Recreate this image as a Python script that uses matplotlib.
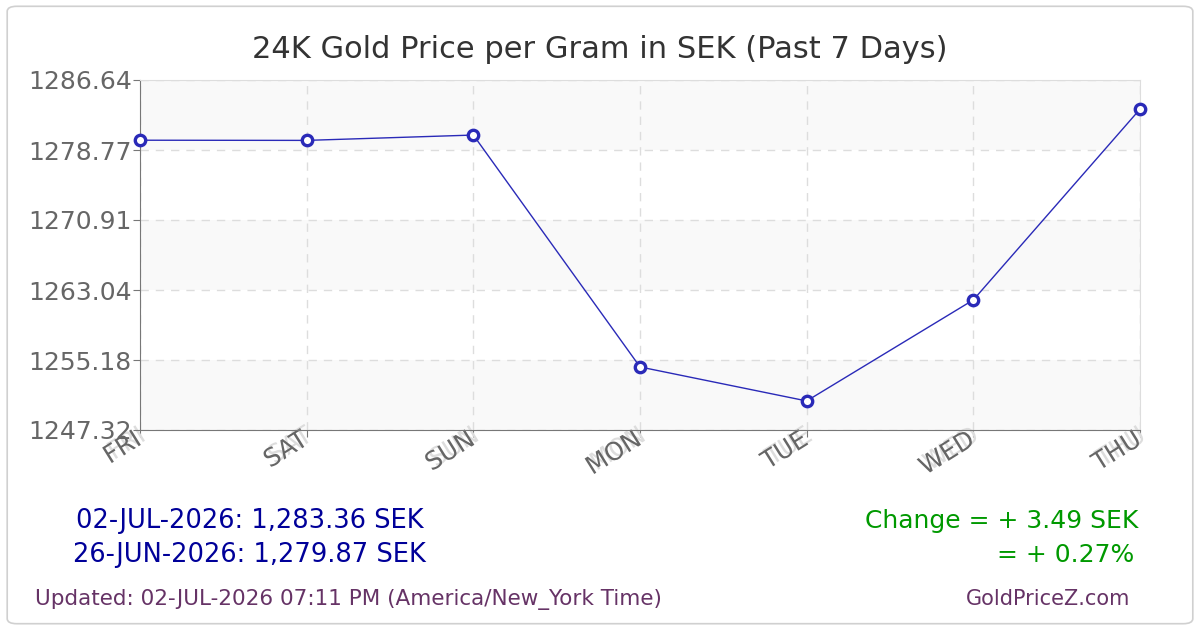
import matplotlib
matplotlib.use("Agg")
from matplotlib import pyplot as plt
from matplotlib import patheffects
from matplotlib import transforms
from matplotlib.patches import FancyBboxPatch
import numpy as np

# data
days = ["FRI", "SAT", "SUN", "MON", "TUE", "WED", "THU"]
prices = [1279.87, 1279.85, 1280.45, 1254.40, 1250.58, 1261.93, 1283.36]
y_ticks = [1247.32, 1255.18, 1263.04, 1270.91, 1278.77, 1286.64]

latest_line = "02-JUL-2026: 1,283.36 SEK"
first_line = "26-JUN-2026: 1,279.87 SEK"
change_line = "Change = + 3.49 SEK"
pct_line = "= + 0.27%"
updated_line = "Updated: 02-JUL-2026 07:11 PM (America/New_York Time)"
site_line = "GoldPriceZ.com"

plt.rcParams['font.family'] = ['DejaVu Sans']

fig = plt.figure(figsize=(12, 6.3), dpi=100)
fig.patch.set_facecolor("white")

# rounded outer frame
frame = FancyBboxPatch((0.006, 0.01), 0.988, 0.98, boxstyle="round,pad=0,rounding_size=0.008",
                       transform=fig.transFigure, facecolor="none", edgecolor="#d0d0d0",
                       linewidth=1.2, zorder=-1)
fig.patches.append(frame)

ax = fig.add_axes([0.1167, 0.3175, 0.8333, 0.5556])
x = np.arange(len(days))

# alternating horizontal bands
for i in range(len(y_ticks) - 1):
    if i % 2 == 0:
        ax.axhspan(y_ticks[i], y_ticks[i + 1], facecolor="#f9f9f9", edgecolor="none", zorder=0)

ax.plot(x, prices, color="#2a2ab8", linewidth=1.0, marker="o", markersize=7.5,
        markerfacecolor="white", markeredgecolor="#2a2ab8", markeredgewidth=2.4, zorder=3,
        clip_on=False)

ax.set_xlim(0, len(days) - 1)
ax.set_ylim(y_ticks[0], y_ticks[-1])
ax.set_yticks(y_ticks)
ax.set_yticklabels([f"{v:.2f}" for v in y_ticks])
ax.set_xticks(x)
ax.set_xticklabels(days)

ax.grid(True, color="#dddddd", linestyle=(0, (6, 5)), linewidth=1)
ax.set_axisbelow(True)

for s in ["top", "right"]:
    ax.spines[s].set_color("#dddddd")
for s in ["left", "bottom"]:
    ax.spines[s].set_color("#777777")

ax.tick_params(axis="y", colors="#777777", labelcolor="#666666", labelsize=18, length=5, pad=1)
ax.tick_params(axis="x", colors="#777777", labelcolor="#666666", labelsize=18, length=5, pad=-4)
shadow = [patheffects.withSimplePatchShadow(offset=(3, 3), shadow_rgbFace="#dddddd", alpha=1.0)]
shift = transforms.ScaledTranslation(-7 / 100, 4 / 100, fig.dpi_scale_trans)
for lbl in ax.get_xticklabels():
    lbl.set_rotation(32)
    lbl.set_ha("right")
    lbl.set_rotation_mode("anchor")
    lbl.set_path_effects(shadow)
    lbl.set_transform(lbl.get_transform() + shift)

fig.text(0.5, 0.922, "24K Gold Price per Gram in SEK (Past 7 Days)", ha="center", va="center",
         fontsize=22, color="#333333")

fig.text(0.208, 0.173, latest_line, ha="center", va="center", fontsize=18.5, color="#000099")
fig.text(0.208, 0.119, first_line, ha="center", va="center", fontsize=18.5, color="#000099")
fig.text(0.949, 0.173, change_line, ha="right", va="center", fontsize=18, color="#009900")
fig.text(0.945, 0.119, pct_line, ha="right", va="center", fontsize=18, color="#009900")
fig.text(0.029, 0.049, updated_line, ha="left", va="center", fontsize=15.5, color="#663366")
fig.text(0.942, 0.049, site_line, ha="right", va="center", fontsize=15, color="#663366")

fig.savefig("out.png", dpi=100)
